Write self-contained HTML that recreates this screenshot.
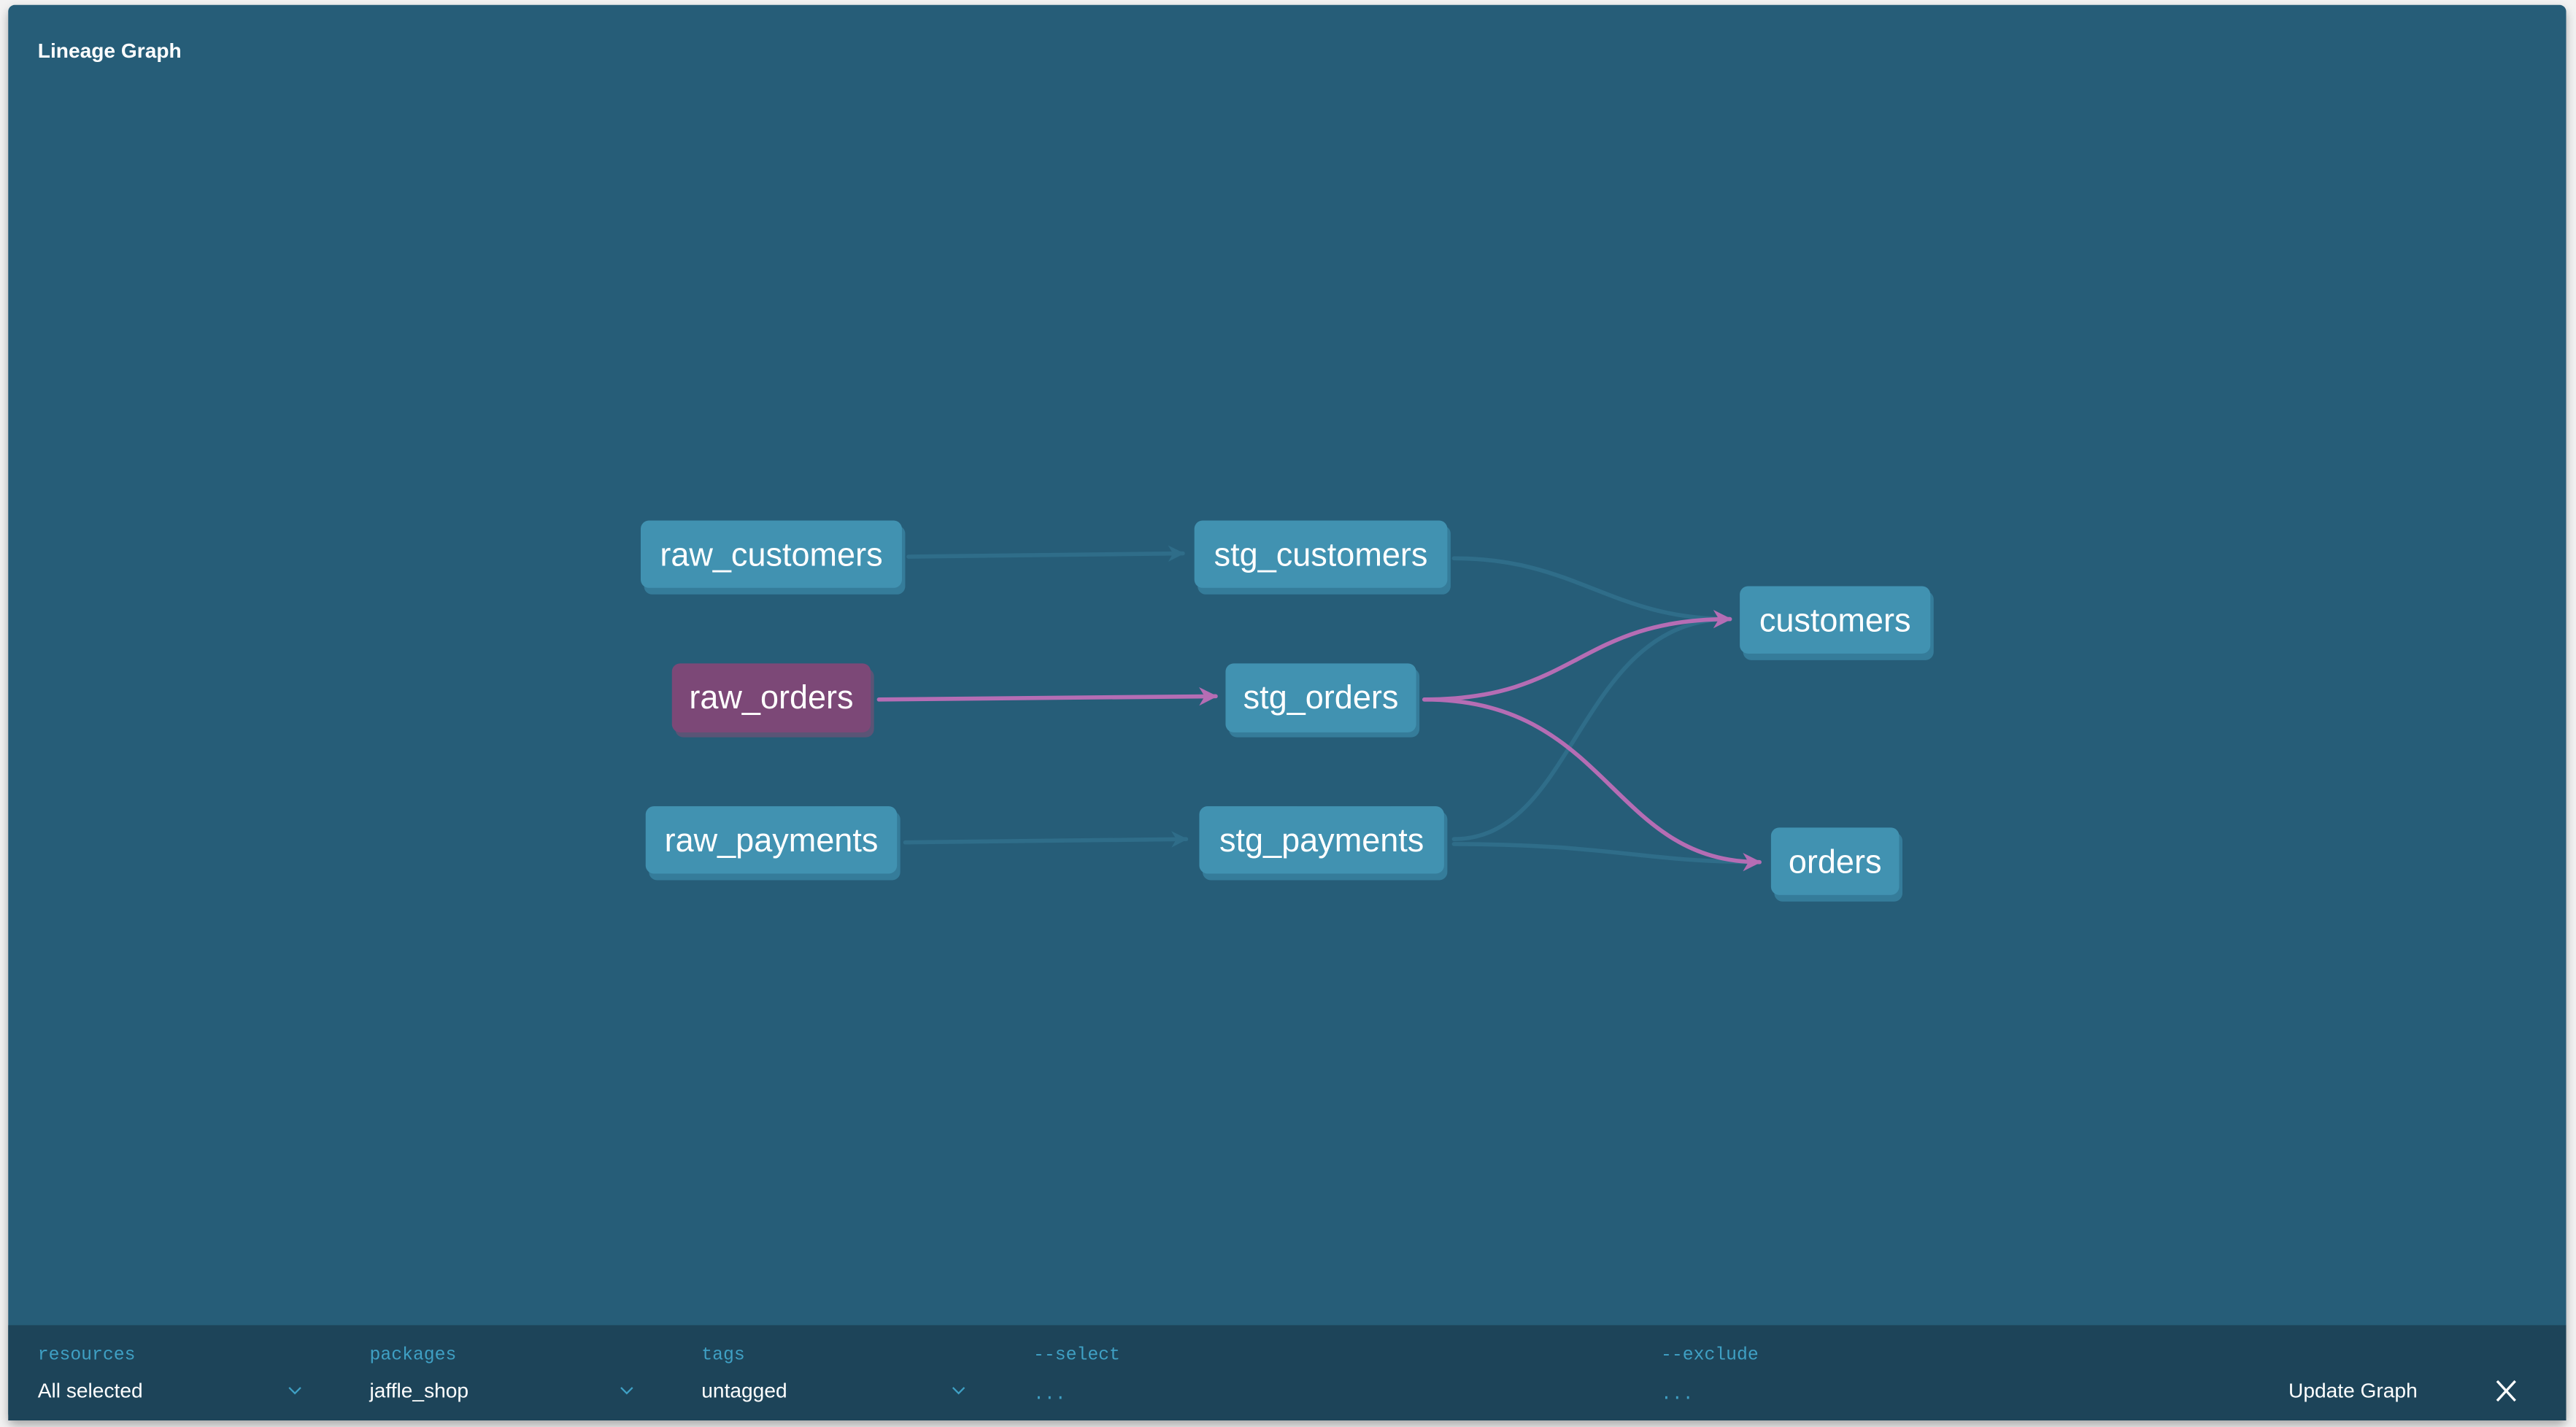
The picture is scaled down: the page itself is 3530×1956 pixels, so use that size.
<!DOCTYPE html>
<html><head><meta charset="utf-8"><style>
html,body{margin:0;padding:0;background:#f2f2f2;}
svg{display:block}
</style></head><body>
<svg width="3530" height="1956" viewBox="0 0 1568 869" preserveAspectRatio="none" xmlns="http://www.w3.org/2000/svg">
<defs>
<filter id="sh" x="-5%" y="-5%" width="110%" height="115%"><feDropShadow dx="0" dy="3" stdDeviation="3" flood-color="#000" flood-opacity="0.3"/></filter>
<marker id="ag" viewBox="0 0 10 10" refX="9" refY="5" markerWidth="4" markerHeight="4" orient="auto" markerUnits="strokeWidth"><path d="M0,0 L10,5 L0,10 L3,5 z" fill="#2f6d89"/></marker>
<marker id="ap" viewBox="0 0 10 10" refX="9" refY="5" markerWidth="4.5" markerHeight="4.5" orient="auto" markerUnits="strokeWidth"><path d="M0,0 L10,5 L0,10 L3,5 z" fill="#b56db4"/></marker>
</defs>
<rect x="0" y="0" width="1568" height="869" fill="#f2f2f2"/>
<g filter="url(#sh)">
<rect x="5" y="3" width="1557" height="862" rx="4" fill="#275d78"/>
</g>
<rect x="5" y="807" width="1557" height="58" fill="#1d4459"/>
<text x="23" y="35" font-family="Liberation Sans, sans-serif" font-size="12.5" font-weight="bold" fill="#ffffff">Lineage Graph</text>

<g fill="none" stroke-linecap="round">
<path d="M553,339 L720,337" stroke="#2f6d89" stroke-width="2.5" marker-end="url(#ag)"/>
<path d="M551,513 L722,511" stroke="#2f6d89" stroke-width="2.5" marker-end="url(#ag)"/>
<path d="M885,340 C960,340 980,377 1053,377" stroke="#2f6d89" stroke-width="2.5"/>
<path d="M885,511 C960,511 960,377 1053,377" stroke="#2f6d89" stroke-width="2.5"/>
<path d="M885,514 C980,514 1000,525 1071,525" stroke="#2f6d89" stroke-width="2.5"/>
<path d="M535,426 L740,424" stroke="#b56db4" stroke-width="2.5" marker-end="url(#ap)"/>
<path d="M867,426 C960,426 960,377 1053,377" stroke="#b56db4" stroke-width="2.5" marker-end="url(#ap)"/>
<path d="M867,426 C980,426 980,525 1071,525" stroke="#b56db4" stroke-width="2.5" marker-end="url(#ap)"/>
</g>

<g font-family="Liberation Sans, sans-serif" font-size="20" fill="#ffffff" text-anchor="middle">
<rect x="392" y="320" width="159" height="42" rx="5" fill="#357c9a"/>
<rect x="390" y="317" width="159" height="41" rx="5" fill="#4192b1"/>
<text x="469.5" y="344.5">raw_customers</text>

<rect x="729" y="320" width="154" height="42" rx="5" fill="#357c9a"/>
<rect x="727" y="317" width="154" height="41" rx="5" fill="#4192b1"/>
<text x="804" y="344.5">stg_customers</text>

<rect x="411" y="407" width="121" height="42" rx="5" fill="#5a5476"/>
<rect x="409" y="404" width="121" height="42" rx="5" fill="#7c4877"/>
<text x="469.5" y="431.5">raw_orders</text>

<rect x="748" y="407" width="116" height="42" rx="5" fill="#357c9a"/>
<rect x="746" y="404" width="116" height="42" rx="5" fill="#4192b1"/>
<text x="804" y="431.5">stg_orders</text>

<rect x="395" y="494" width="153" height="42" rx="5" fill="#357c9a"/>
<rect x="393" y="491" width="153" height="41" rx="5" fill="#4192b1"/>
<text x="469.5" y="518.5">raw_payments</text>

<rect x="732" y="494" width="149" height="42" rx="5" fill="#357c9a"/>
<rect x="730" y="491" width="149" height="41" rx="5" fill="#4192b1"/>
<text x="804.5" y="518.5">stg_payments</text>

<rect x="1061" y="360" width="116" height="42" rx="5" fill="#357c9a"/>
<rect x="1059" y="357" width="116" height="41" rx="5" fill="#4192b1"/>
<text x="1117" y="384.5">customers</text>

<rect x="1080" y="507" width="78" height="42" rx="5" fill="#357c9a"/>
<rect x="1078" y="504" width="78" height="41" rx="5" fill="#4192b1"/>
<text x="1117" y="531.5">orders</text>
</g>

<g font-family="Liberation Mono, monospace" font-size="11" fill="#3fa0c4">
<text x="23" y="828">resources</text>
<text x="225" y="828">packages</text>
<text x="427" y="828">tags</text>
<text x="629" y="828">--select</text>
<text x="1011" y="828">--exclude</text>
<text x="629" y="852">...</text>
<text x="1011" y="852">...</text>
</g>
<g font-family="Liberation Sans, sans-serif" font-size="12.5" fill="#ffffff">
<text x="23" y="851">All selected</text>
<text x="225" y="851">jaffle_shop</text>
<text x="427" y="851">untagged</text>
<text x="1393" y="851">Update Graph</text>
</g>
<g fill="none" stroke="#3fa0c4" stroke-width="1">
<path d="M176,845 L179.5,848.5 L183,845"/>
<path d="M378,845 L381.5,848.5 L385,845"/>
<path d="M580,845 L583.5,848.5 L587,845"/>
</g>
<path d="M1520,841 L1531,853 M1531,841 L1520,853" stroke="#ffffff" stroke-width="1.5"/>
</svg>
</body></html>
